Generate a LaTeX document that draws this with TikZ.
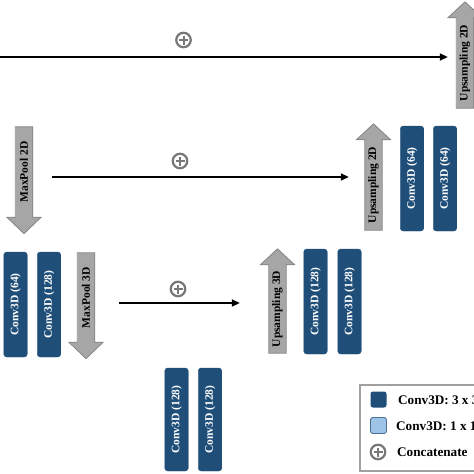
\documentclass[tikz,border=0pt]{standalone}
\usepackage{fontspec}
\setmainfont{Liberation Serif}
\usetikzlibrary{arrows.meta,calc}
\definecolor{convblue}{HTML}{1F4E79}
\definecolor{lightblue}{HTML}{9DC3E6}
\definecolor{arrgray}{HTML}{A6A6A6}
\definecolor{arredge}{HTML}{808080}
\definecolor{plusgray}{HTML}{777777}
\definecolor{legedge}{HTML}{A0A0A0}
\tikzset{
  conv/.style={draw=convblue, fill=convblue, rounded corners=3pt, minimum width=23.5pt,
    minimum height=105pt, inner sep=0pt, text=white, font=\bfseries\fontsize{11.5}{13}\selectfont},
  shaft/.style={fill=arrgray, draw=none, inner sep=0pt, minimum width=17pt,
    font=\bfseries\fontsize{11.5}{13}\selectfont},
  headfill/.style={fill=arrgray},
  outline/.style={draw=arredge, line width=0.7pt, line join=miter},
  conn/.style={line width=1.8pt, -{Triangle[length=8pt,width=7pt]}},
  plussym/.style={circle, draw=plusgray, line width=2.2pt, minimum size=14.5pt, inner sep=0pt,
    path picture={\draw[plusgray, line width=2pt]
      ($(path picture bounding box.center)+(-4.5pt,0)$) -- ++(9pt,0)
      ($(path picture bounding box.center)+(0,-4.5pt)$) -- ++(0,9pt);}},
  legtext/.style={anchor=west, inner sep=0pt, font=\bfseries\fontsize{13.2}{15}\selectfont},
  legsq/.style={rounded corners=2.5pt, minimum size=16pt, inner sep=0pt},
}
\begin{document}
\begin{tikzpicture}[x=1pt,y=-1pt]
\useasboundingbox (0,0) rectangle (474,474);
\begin{scope}
\clip (0,0) rectangle (474,474);

% ---- up arrows ----
\node[shaft, minimum height=90pt] (u1) at (465,63) {\rotatebox{90}{Upsampling 2D}};
\node[shaft, minimum height=90pt] (u2) at (373.5,185) {\rotatebox{90}{Upsampling 2D}};
\node[shaft, minimum height=88pt] (u3) at (277.5,309) {\rotatebox{90}{Upsampling 3D}};
\foreach \u in {u1,u2,u3}{
  \fill[headfill] ([xshift=-8.5pt]\u.north west) -- ([yshift=16pt]\u.north) -- ([xshift=8.5pt]\u.north east) -- cycle;
  \draw[outline] (\u.south west) -- (\u.north west) -- ([xshift=-8.5pt]\u.north west) -- ([yshift=16pt]\u.north)
     -- ([xshift=8.5pt]\u.north east) -- (\u.north east) -- (\u.south east) -- cycle;
}

% ---- down arrows ----
\node[shaft, minimum height=90pt] (d1) at (24,172) {\rotatebox{90}{MaxPool 2D}};
\node[shaft, minimum height=89pt] (d2) at (86,297.5) {\rotatebox{90}{MaxPool 3D}};
\foreach \d in {d1,d2}{
  \fill[headfill] ([xshift=-8.5pt]\d.south west) -- ([yshift=-16.5pt]\d.south) -- ([xshift=8.5pt]\d.south east) -- cycle;
  \draw[outline] (\d.north west) -- (\d.south west) -- ([xshift=-8.5pt]\d.south west) -- ([yshift=-16.5pt]\d.south)
     -- ([xshift=8.5pt]\d.south east) -- (\d.south east) -- (\d.north east) -- cycle;
}

% ---- conv blocks ----
\node[conv] (c1) at (412,178.5) {\rotatebox{90}{Conv3D (64)}};
\node[conv] (c2) at (445,178.5) {\rotatebox{90}{Conv3D (64)}};
\node[conv] (c3) at (15.5,304.5) {\rotatebox{90}{Conv3D (64)}};
\node[conv] (c4) at (49,304.5) {\rotatebox{90}{Conv3D (128)}};
\node[conv] (c5) at (315.5,301.5) {\rotatebox{90}{Conv3D (128)}};
\node[conv] (c6) at (349.5,301.5) {\rotatebox{90}{Conv3D (128)}};
\node[conv, minimum height=103pt] (c7) at (176.5,419.5) {\rotatebox{90}{Conv3D~(128)}};
\node[conv, minimum height=103pt] (c8) at (210,419.5) {\rotatebox{90}{Conv3D (128)}};

% ---- skip connections ----
\coordinate (s1) at (-5,57);
\coordinate (s2) at (52,177);
\coordinate (s3) at (119,303);
\draw[conn, shorten >=8.5pt] (s1) -- (s1 -| u1.west);
\draw[conn, shorten >=16pt] (s2) -- (s2 -| u2.west);
\draw[conn, shorten >=29pt] (s3) -- (s3 -| u3.west);
\node[plussym] (p1) at (183.5,40) {};
\node[plussym] (p2) at (180,161) {};
\node[plussym] (p3) at (178,289) {};

% ---- legend ----
\draw[legedge, line width=1.3pt] (360,385) rectangle (490,471);
\node[legsq, fill=convblue] (l1) at (378.5,399.5) {};
\node[legsq, fill=lightblue, draw=convblue!80, line width=0.9pt] (l2) at (378.5,425.5) {};
\node[plussym] (l3) at (378,452) {};
\node[legtext] (t1) at (398,400) {Conv3D: 3 x 3 x 3};
\node[legtext] (t2) at (396,426) {Conv3D: 1 x 1 x 1};
\node[legtext] (t3) at (397,452) {Concatenate};
\end{scope}
\end{tikzpicture}
\end{document}
